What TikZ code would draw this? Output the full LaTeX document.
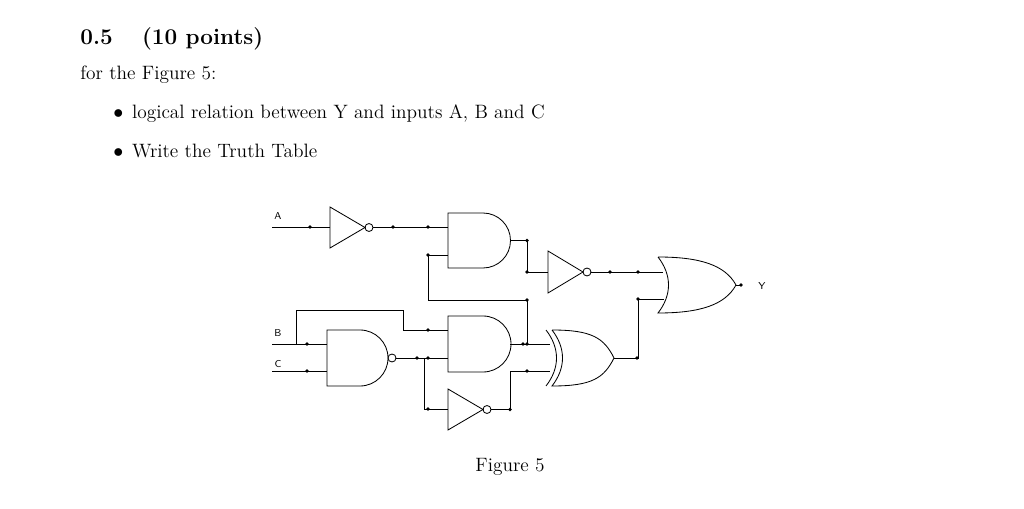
\documentclass[tikz,border=0pt]{standalone}
\begin{document}
\begin{tikzpicture}[x=0.6pt,y=-0.6pt,line width=0.5pt,
  dot/.style={fill,circle,inner sep=0pt,minimum size=2.2pt},
  lab/.style={font=\sffamily\fontsize{6}{7}\selectfont,inner sep=0pt},
  txt/.style={anchor=base west,inner sep=0pt,font=\fontsize{11.6}{13}\selectfont}]
\useasboundingbox (0,0) rectangle (1024,509);
% text
\node[anchor=base west,inner sep=0pt,font=\bfseries\fontsize{13.5}{16}\selectfont] (h) at (80,45) {0.5\hspace{1.3em}(10 points)};
\node[txt] (t1) at (80,80) {for the Figure 5:};
\node[txt] (b1) at (113,119) {$\bullet$\hspace{0.45em}logical relation between Y and inputs A, B and C};
\node[txt] (b2) at (113,158) {$\bullet$\hspace{0.45em}Write the Truth Table};
\node[anchor=base,inner sep=0pt,font=\fontsize{11.6}{13}\selectfont] (cap) at (510,471) {Figure 5};
% labels
\node[lab] (A) at (278,216) {A};
\node[lab] (B) at (278,333) {B};
\node[lab] (C) at (278,364) {C};
\node[lab] (Y) at (762,286) {Y};
% NOT gates
\draw (330,207) -- (365,227.5) -- (330,248) -- cycle; \draw (369,227.5) circle (4);
\draw (548,251) -- (583,272) -- (548,293) -- cycle; \draw (587,272) circle (4);
\draw (448,389) -- (483,409.5) -- (448,430) -- cycle; \draw (487,409.5) circle (4);
% AND gates
\draw (448,213) -- (483,213) arc(-90:90:27.5) -- (448,268) -- cycle;
\draw (448,316) -- (483,316) arc(-90:90:28) -- (448,372) -- cycle;
% NAND
\draw (327,330) -- (360,330) arc(-90:90:28) -- (327,386) -- cycle; \draw (392,358) circle (4);
% OR
\draw (658,257) .. controls (700,257) and (725,265) .. (736,285) .. controls (725,305) and (700,313) .. (658,313) .. controls (672,295) and (672,275) .. (658,257);
% XOR
\draw (552,330) .. controls (592,330) and (604,338) .. (614,358) .. controls (604,378) and (592,386) .. (552,386) .. controls (566,368) and (566,348) .. (552,330);
\draw (546,330) .. controls (560,348) and (560,368) .. (546,386);
% wires
\draw (272,227) -- (330,227);
\draw (373,227) -- (448,227);
\draw (510,240.5) -- (527,240.5) -- (527,272) -- (548,272);
\draw (591,272) -- (663,272);
\draw (736,285) -- (741,285);
\draw (448,255) -- (428,255) -- (428,300) -- (527,300) -- (527,344);
\draw (272,344) -- (327,344);
\draw (296,344) -- (296,310) -- (403,310) -- (403,330) -- (448,330);
\draw (272,371) -- (327,371);
\draw (396,358) -- (448,358);
\draw (424,358) -- (424,409) -- (448,409);
\draw (510,344) -- (550,344);
\draw (491,409.5) -- (510,409.5) -- (510,371) -- (550,371);
\draw (614,358) -- (638,358) -- (638,299) -- (664,299);
% dots
\foreach \p in {(310,227),(393,227),(428,227),(527,240.5),(527,272),(610,272),(638,272),(741,285),
  (428,255),(638,299),(527,300),(637,358),(523,344),(527,344),(527,371),(510,409.5),
  (428,409),(428,330),(417,358),(428,358),(307,344),(307,371)}
  \node[dot] at \p {};
\end{tikzpicture}
\end{document}
